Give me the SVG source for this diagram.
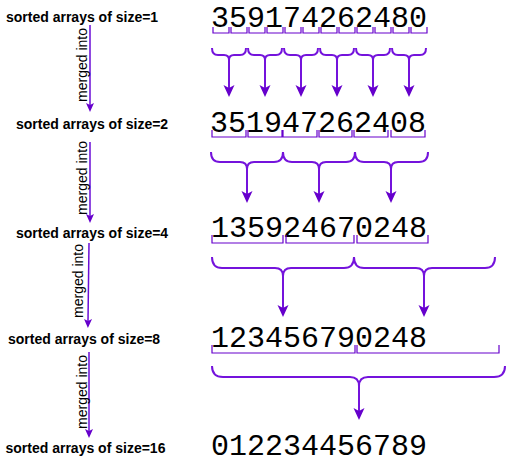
<svg xmlns="http://www.w3.org/2000/svg" width="507" height="465" viewBox="0 0 507 465">
<defs>
<style>
.lbl{font-family:"Liberation Sans",Arial,sans-serif;font-size:14px;font-weight:bold;fill:#000}
.mi{font-family:"Liberation Sans",Arial,sans-serif;font-size:14px;fill:#000}
.num{font-family:"Liberation Mono","Courier New",monospace;font-size:30px;fill:#000}
.brk{fill:none;stroke:#6600cc;stroke-width:1.2}
.brace{fill:none;stroke:#7413dc;stroke-width:2}
.arr{fill:none;stroke:#7413dc;stroke-width:2;marker-end:url(#ah)}
.side{fill:none;stroke:#6a0dd6;stroke-width:1.5;marker-end:url(#ahs)}
</style>
<marker id="ah" markerUnits="userSpaceOnUse" markerWidth="12" markerHeight="11" refX="3" refY="5.5" orient="auto" overflow="visible">
<path d="M0,0 L12,5.5 L0,11 L3,5.5 Z" fill="#6600cc"/>
</marker>
<marker id="ahs" markerUnits="userSpaceOnUse" markerWidth="9" markerHeight="8" refX="2" refY="4" orient="auto" overflow="visible">
<path d="M0,0 L9,4 L0,8 L2,4 Z" fill="#6600cc"/>
</marker>
</defs>
<rect width="507" height="465" fill="#fff"/>

<g id="label-size1"><text class="lbl" x="6" y="22">sorted arrays of size=1</text></g>
<g id="label-size2"><text class="lbl" x="16" y="129">sorted arrays of size=2</text></g>
<g id="label-size4"><text class="lbl" x="16" y="238">sorted arrays of size=4</text></g>
<g id="label-size8"><text class="lbl" x="8" y="344">sorted arrays of size=8</text></g>
<g id="label-size16"><text class="lbl" x="5.5" y="453">sorted arrays of size=16</text></g>

<g id="row1">
<text class="num" x="211" y="27">359174262480</text>
<path class="brk" d="M213,27V33H229V27 M231,27V33H247V27 M249,27V33H265V27 M267,27V33H283V27 M285,27V33H301V27 M303,27V33H319V27 M321,27V33H337V27 M339,27V33H355V27 M357,27V33H373V27 M375,27V33H391V27 M393,27V33H409V27 M411,27V33H427V27"/>
</g>
<g id="row2">
<text class="num" x="210" y="132">351947262408</text>
<path class="brk" d="M212,130V137H246V130 M248,130V137H282V130 M283,130V137H317V130 M319,130V137H352V130 M354,130V137H388V130 M391,130V137H425V130"/>
</g>
<g id="row3">
<text class="num" x="211" y="237">135924670248</text>
<path class="brk" d="M212,235V243H283V235 M286,235V243H354V235 M357,235V243H428V235"/>
</g>
<g id="row4">
<text class="num" x="211" y="347">123456790248</text>
<path class="brk" d="M212,345V353H355V345 M357,345V353H499V345"/>
</g>
<g id="row5">
<text class="num" x="211" y="455">012234456789</text>
</g>

<g id="connectors">
<g id="merge1">
<path class="brace" d="M212,48Q212,55 218,55L224,55Q229,55 229,60Q229,55 234,55L240,55Q246,55 246,48"/>
<path class="brace" d="M248,48Q248,55 254,55L260,55Q265,55 265,60Q265,55 270,55L276,55Q282,55 282,48"/>
<path class="brace" d="M284,48Q284,55 290,55L296,55Q301,55 301,60Q301,55 306,55L312,55Q318,55 318,48"/>
<path class="brace" d="M320,48Q320,55 326,55L332,55Q337,55 337,60Q337,55 342,55L348,55Q354,55 354,48"/>
<path class="brace" d="M356,48Q356,55 362,55L368,55Q373,55 373,60Q373,55 378,55L384,55Q390,55 390,48"/>
<path class="brace" d="M392,48Q392,55 398,55L404,55Q409,55 409,60Q409,55 414,55L420,55Q426,55 426,48"/>
<path class="arr" d="M229,60V88"/>
<path class="arr" d="M265,60V88"/>
<path class="arr" d="M301,60V88"/>
<path class="arr" d="M337,60V88"/>
<path class="arr" d="M373,60V88"/>
<path class="arr" d="M409,60V88"/>
</g>
<g id="merge2">
<path class="brace" d="M211,152Q211,162 220,162L240,162Q247,162 247,169Q247,162 254,162L274,162Q283,162 283,152"/>
<path class="brace" d="M283,152Q283,162 292,162L312,162Q319,162 319,169Q319,162 326,162L346,162Q355,162 355,152"/>
<path class="brace" d="M355,152Q355,162 364,162L384,162Q391,162 391,169Q391,162 398,162L419,162Q428,162 428,152"/>
<path class="arr" d="M247,169V194"/>
<path class="arr" d="M319,169V194"/>
<path class="arr" d="M391,169V194"/>
</g>
<g id="merge3">
<path class="brace" d="M212,257Q212,268 222,268L275,268Q283,268 283,276Q283,268 291,268L344,268Q354,268 354,257"/>
<path class="brace" d="M354,257Q354,268 364,268L416,268Q424,268 424,276Q424,268 432,268L485,268Q495,268 495,257"/>
<path class="arr" d="M283,276V308"/>
<path class="arr" d="M424,276V308"/>
</g>
<g id="merge4">
<path class="brace" d="M212,366Q212,377 223,377L350,377Q359,377 359,386Q359,377 368,377L494,377Q505,377 505,366"/>
<path class="arr" d="M359,386V411"/>
</g>
<g id="side-arrows">
<path class="side" d="M90,25V105"/>
<path class="side" d="M90,142V216"/>
<path class="side" d="M89,243L88,321"/>
<path class="side" d="M89,352V431"/>
</g>
</g>

<g id="side-labels">
<text class="mi" text-anchor="middle" transform="translate(87,65) rotate(-90)">merged into</text>
<text class="mi" text-anchor="middle" transform="translate(87,178) rotate(-90)">merged into</text>
<text class="mi" text-anchor="middle" transform="translate(83,281) rotate(-90)">merged into</text>
<text class="mi" text-anchor="middle" transform="translate(87,392) rotate(-90)">merged into</text>
</g>
</svg>
